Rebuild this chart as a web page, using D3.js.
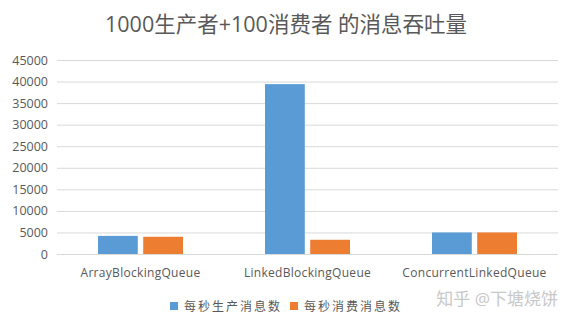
<!DOCTYPE html>
<html>
<head>
<meta charset="utf-8">
<script src="https://cdn.jsdelivr.net/npm/d3@7"></script>
<style>
  body { margin: 0; background: #fff; }
  text { font-family: "Open Sans", "Noto Sans CJK SC", sans-serif; }
</style>
</head>
<body>
<svg id="chart" width="574" height="323"></svg>
<script>
var categories = ["ArrayBlockingQueue", "LinkedBlockingQueue", "ConcurrentLinkedQueue"];
var seriesNames = ["每秒生产消息数", "每秒消费消息数"];
var produced = [4200, 39400, 5000];
var consumed = [4000, 3300, 5000];
var yTicks = [0, 5000, 10000, 15000, 20000, 25000, 30000, 35000, 40000, 45000];

var colors = ["#5b9bd5", "#ed7d31"];
var svg = d3.select("#chart");
var plotLeft = 57, plotRight = 558, plotTop = 60, plotBottom = 254;

var x = d3.scaleBand().domain(categories).range([plotLeft, plotRight]);
var x1 = d3.scaleBand().domain([0, 1]).range([0, 85]).paddingInner(0.12);
var y = d3.scaleLinear().domain([0, 45000]).range([plotBottom, plotTop]);

svg.append("text")
    .attr("x", 286).attr("y", 32)
    .attr("text-anchor", "middle")
    .attr("font-size", "21.5px")
    .attr("fill", "#595959")
    .text("1000生产者+100消费者 的消息吞吐量");

// gridlines + tick labels
var yAxis = svg.append("g")
    .attr("transform", "translate(" + plotLeft + ",0)")
    .call(d3.axisLeft(y).tickValues(yTicks).tickSize(-(plotRight - plotLeft)).tickPadding(9).tickFormat(d3.format("d")));
yAxis.select(".domain").remove();
yAxis.selectAll("line").attr("stroke", "#d9d9d9");
yAxis.selectAll("text").attr("fill", "#595959").attr("font-size", "12.5px")
    .attr("font-family", "'Open Sans', sans-serif");

var rows = categories.map(function (c, i) {
    return { cat: c, vals: [produced[i], consumed[i]] };
});

var g = svg.selectAll("g.cat")
    .data(rows)
    .enter()
    .append("g")
    .attr("class", "cat")
    .attr("transform", (d) => "translate(" + (x(d.cat) + x.bandwidth() / 2 - 42.5) + ",0)");

g.selectAll("rect")
    .data((d) => d.vals)
    .enter()
    .append("rect")
    .attr("x", (d, i) => x1(i))
    .attr("width", x1.bandwidth())
    .attr("y", (d) => y(d))
    .attr("height", (d) => plotBottom - y(d))
    .attr("fill", (d, i) => colors[i]);

// x axis line
svg.append("line")
    .attr("x1", plotLeft).attr("x2", plotRight)
    .attr("y1", plotBottom + 0.5).attr("y2", plotBottom + 0.5)
    .attr("stroke", "#d9d9d9");

svg.selectAll("text.cat-label")
    .data(categories)
    .enter()
    .append("text")
    .attr("class", "cat-label")
    .attr("x", (d) => x(d) + x.bandwidth() / 2)
    .attr("y", 277)
    .attr("text-anchor", "middle")
    .attr("font-size", "12px")
    .attr("fill", "#595959")
    .attr("letter-spacing", "0.3px")
    .text((d) => d);

// legend
var legendX = [170, 290];
var lg = svg.selectAll("g.legend")
    .data(seriesNames)
    .enter()
    .append("g")
    .attr("class", "legend")
    .attr("transform", (d, i) => "translate(" + legendX[i] + ",302)");
lg.append("rect")
    .attr("width", 8).attr("height", 8)
    .attr("fill", (d, i) => colors[i]);
lg.append("text")
    .attr("x", 14).attr("y", 9)
    .attr("font-size", "12px")
    .attr("fill", "#595959")
    .attr("letter-spacing", "2px")
    .text((d) => d);

// watermark
svg.append("text")
    .attr("x", 558).attr("y", 305)
    .attr("text-anchor", "end")
    .attr("font-size", "17px")
    .attr("fill", "#c8c8c8")
    .text("知乎 @下塘烧饼");
</script>
</body>
</html>
